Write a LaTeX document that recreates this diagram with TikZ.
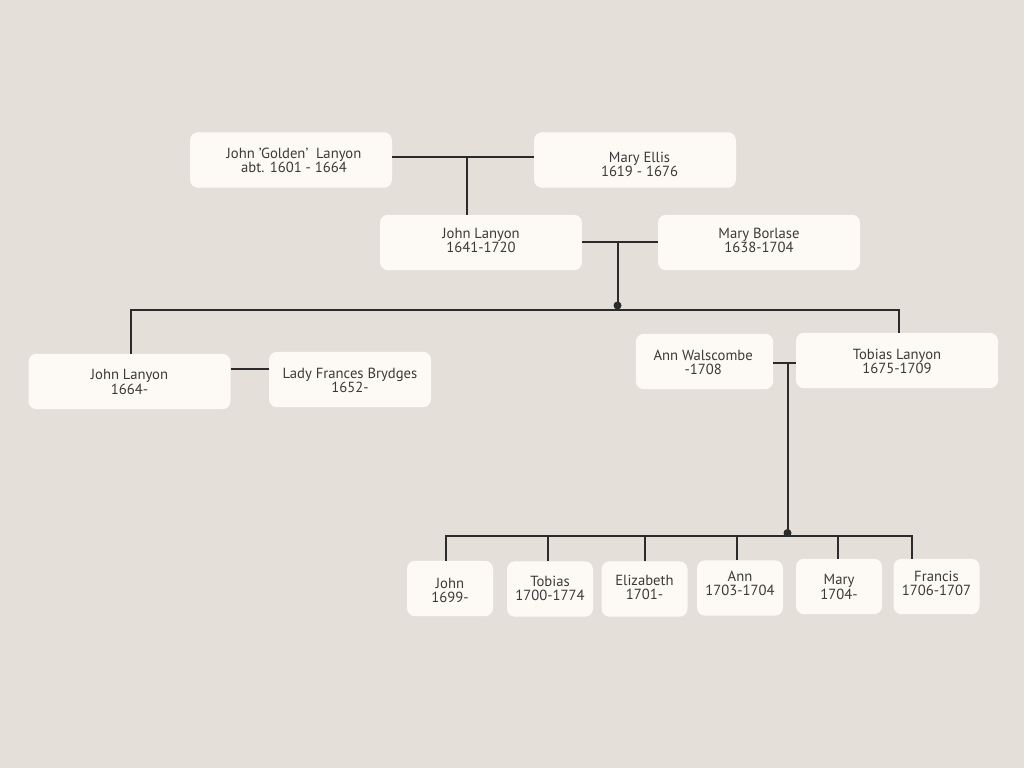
\documentclass[tikz,border=0pt]{standalone}
\usepackage{fontspec}
\setmainfont{PT Sans}
\definecolor{bg}{HTML}{E4E0D9}
\definecolor{boxfill}{HTML}{FDF9F4}
\definecolor{ink}{HTML}{2B2B2B}
\definecolor{txt}{HTML}{3A3A3A}
% #1 horizontal shift (twice the wanted shift), #2 raise, #3 lines
\newcommand\ptxt[3]{\raisebox{#2}[0pt][0pt]{\makebox[0pt]{\hspace*{#1}\begin{tabular}{@{}c@{}}#3\end{tabular}}}}
\begin{document}
\begin{tikzpicture}[x=0.75pt,y=-0.75pt,
  person/.style={draw=none,fill=boxfill,rounded corners=6pt,align=center,
    font=\fontsize{11}{10}\selectfont,text=txt,inner sep=0pt,
    minimum height=41.5pt},
  wide/.style={person,minimum width=151.5pt},
  mid/.style={person,minimum width=121.5pt},
  small/.style={person,minimum width=103pt},
  kid/.style={person,minimum width=64.5pt},
  link/.style={draw=ink,line width=1.5pt,line join=miter},
  junction/.style={fill=ink}]
\fill[bg] (0,0) rectangle (1024,768);
\useasboundingbox (0,0) rectangle (1024,768);
% generation 1
\node[wide] (g) at (291,160) {\ptxt{4.5pt}{-4.65pt}{John 'Golden'\ \ Lanyon\\abt. 1601 - 1664}};
\node[wide] (me) at (635,160) {\ptxt{6.8pt}{-7.65pt}{Mary Ellis\\1619 - 1676}};
% generation 2
\node[wide] (jl) at (481,242.5) {\ptxt{0pt}{-2.775pt}{John Lanyon\\1641-1720}};
\node[wide] (mb) at (759,242.5) {\ptxt{0pt}{-2.775pt}{Mary Borlase\\1638-1704}};
% generation 3
\node[wide] (jl2) at (129.5,381.5) {\ptxt{0pt}{-4.65pt}{John Lanyon\\1664-}};
\node[mid] (lf) at (350,379.5) {\ptxt{0pt}{-4.65pt}{Lady Frances Brydges\\1652-}};
\node[small] (aw) at (704.5,361.5) {\ptxt{-2pt}{-4.65pt}{Ann Walscombe\\-1708}};
\node[wide] (tl) at (897,360.5) {\ptxt{0pt}{-4.65pt}{Tobias Lanyon\\1675-1709}};
% generation 4
\node[kid] (c1) at (450,588.5) {\ptxt{0pt}{-5.775pt}{John\\1699-}};
\node[kid] (c2) at (550,589) {\ptxt{0pt}{-3.525pt}{Tobias\\1700-1774}};
\node[kid] (c3) at (644.5,589) {\ptxt{0pt}{-3.15pt}{Elizabeth\\1701-}};
\node[kid] (c4) at (740,588) {\ptxt{0pt}{-0.9pt}{Ann\\1703-1704}};
\node[kid] (c5) at (839,586.5) {\ptxt{0pt}{-4.65pt}{Mary\\1704-}};
\node[kid] (c6) at (936.5,586.5) {\ptxt{0pt}{-2.025pt}{Francis\\1706-1707}};
% coordinates
\coordinate (m1) at (467,157);
\coordinate (m2) at (618,242);
\coordinate (d1) at (617.5,305.5);
\coordinate (b1) at (131,309.5);
\coordinate (b2) at (899,309.5);
\coordinate (m3) at (250,369);
\coordinate (m4) at (788,363);
\coordinate (d2) at (787.5,533);
\coordinate (e1) at (446,536);
\coordinate (e2) at (912,536);
\coordinate (k2) at (548,536);
\coordinate (k3) at (645,536);
\coordinate (k4) at (737,536);
\coordinate (k5) at (838,536);
% connectors
\draw[link] (g.east |- m1) -- (me.west |- m1);
\draw[link] (m1) -- (m1 |- jl.north);
\draw[link] (jl.east |- m2) -- (mb.west |- m2);
\draw[link] (m2) -- (m2 |- d1);
\draw[link] (b1 |- jl2.north) -- (b1) -- (b2) -- (b2 |- tl.north);
\fill[junction] (d1) circle[radius=4];
\draw[link] (jl2.east |- m3) -- (lf.west |- m3);
\draw[link] (aw.east |- m4) -- (tl.west |- m4);
\draw[link] (m4) -- (m4 |- d2);
\draw[link] (e1 |- c1.north) -- (e1) -- (e2) -- (e2 |- c6.north);
\fill[junction] (d2) circle[radius=4];
\draw[link] (k2) -- (k2 |- c2.north);
\draw[link] (k3) -- (k3 |- c3.north);
\draw[link] (k4) -- (k4 |- c4.north);
\draw[link] (k5) -- (k5 |- c5.north);
\end{tikzpicture}
\end{document}
